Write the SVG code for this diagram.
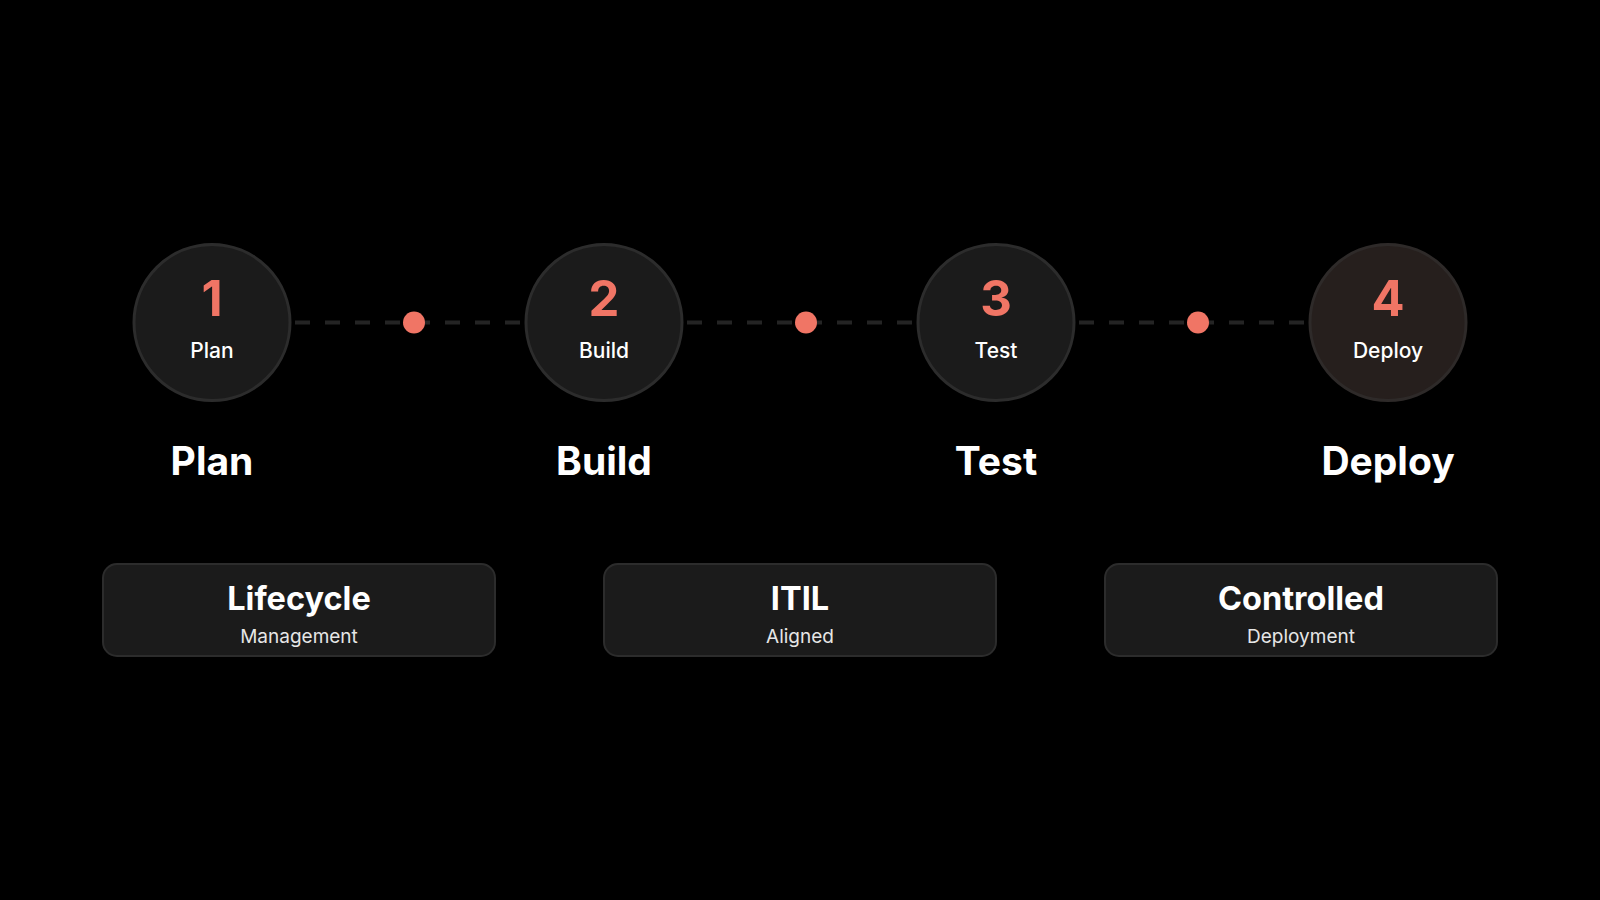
<svg xmlns="http://www.w3.org/2000/svg" width="1600" height="900" viewBox="0 0 1600 900">
<style>
.circ{fill:#1b1b1b;stroke:#2c2c2c;stroke-width:3}
.circ4{fill:#261f1d;stroke:#2e2a29;stroke-width:3}
.num{font-family:Inter,"Liberation Sans",sans-serif;font-weight:700;font-size:49px;fill:#f07565;text-anchor:middle}
.small{font-family:Inter,"Liberation Sans",sans-serif;font-weight:500;font-size:21px;fill:#ffffff;text-anchor:middle}
.title{font-family:Inter,"Liberation Sans",sans-serif;font-weight:700;font-size:39px;fill:#ffffff;text-anchor:middle}
.card{fill:#1b1b1b;stroke:#2c2c2c;stroke-width:2}
.ctitle{font-family:Inter,"Liberation Sans",sans-serif;font-weight:700;font-size:32.5px;fill:#ffffff;text-anchor:middle}
.csub{font-family:Inter,"Liberation Sans",sans-serif;font-weight:400;font-size:19px;fill:#e6e6e6;text-anchor:middle}
.dash{stroke:#242424;stroke-width:4;stroke-dasharray:15 15;fill:none}
.dot{fill:#f07565}
</style>
<rect width="1600" height="900" fill="#000000"/>
<g id="connectors">
<line class="dash" x1="295" y1="322.5" x2="522" y2="322.5"/>
<line class="dash" x1="687" y1="322.5" x2="914" y2="322.5"/>
<line class="dash" x1="1079" y1="322.5" x2="1306" y2="322.5"/>
<circle class="dot" cx="414" cy="322.5" r="11"/>
<circle class="dot" cx="806" cy="322.5" r="11"/>
<circle class="dot" cx="1198" cy="322.5" r="11"/>
</g>
<g id="step1">
<circle class="circ" cx="212" cy="322.5" r="78"/>
<text class="num" x="212" y="316">1</text>
<text class="small" x="212" y="358">Plan</text>
<text class="title" x="212" y="474.5">Plan</text>
</g>
<g id="step2">
<circle class="circ" cx="604" cy="322.5" r="78"/>
<text class="num" x="604" y="316">2</text>
<text class="small" x="604" y="358">Build</text>
<text class="title" x="604" y="474.5">Build</text>
</g>
<g id="step3">
<circle class="circ" cx="996" cy="322.5" r="78"/>
<text class="num" x="996" y="316">3</text>
<text class="small" x="996" y="358">Test</text>
<text class="title" x="996" y="474.5">Test</text>
</g>
<g id="step4">
<circle class="circ4" cx="1388" cy="322.5" r="78"/>
<text class="num" x="1388" y="316">4</text>
<text class="small" x="1388" y="358">Deploy</text>
<text class="title" x="1388" y="474.5">Deploy</text>
</g>
<g id="card1">
<rect class="card" x="103" y="564" width="392" height="92" rx="14"/>
<text class="ctitle" x="299" y="609.5">Lifecycle</text>
<text class="csub" x="299" y="643">Management</text>
</g>
<g id="card2">
<rect class="card" x="604" y="564" width="392" height="92" rx="14"/>
<text class="ctitle" x="800" y="609.5">ITIL</text>
<text class="csub" x="800" y="643">Aligned</text>
</g>
<g id="card3">
<rect class="card" x="1105" y="564" width="392" height="92" rx="14"/>
<text class="ctitle" x="1301" y="609.5">Controlled</text>
<text class="csub" x="1301" y="643">Deployment</text>
</g>
</svg>
